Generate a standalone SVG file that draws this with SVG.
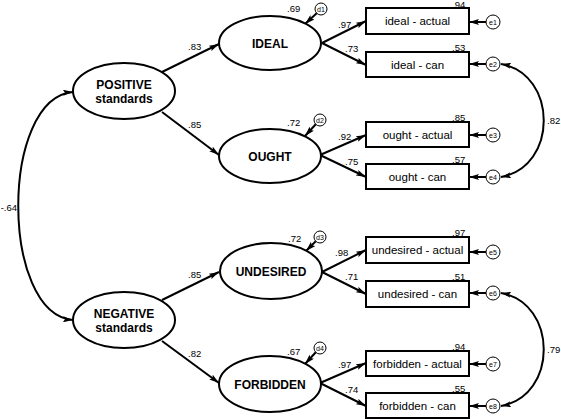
<svg xmlns="http://www.w3.org/2000/svg" width="561" height="419" viewBox="0 0 561 419">
<defs>
<marker id="ah" viewBox="0 0 10 6" refX="10" refY="3" markerWidth="10" markerHeight="6" markerUnits="userSpaceOnUse" orient="auto-start-reverse">
<path d="M0,0 L10,3 L0,6 L2,3 Z" fill="#000"/>
</marker>
<style>
.lat{fill:#fff;stroke:#000;stroke-width:2}
.box{fill:#fff;stroke:#000;stroke-width:2}
.err{fill:#fff;stroke:#000;stroke-width:1}
.ln{fill:none;stroke:#000;stroke-width:2;marker-end:url(#ah)}
.cv{fill:none;stroke:#000;stroke-width:2;marker-end:url(#ah);marker-start:url(#ah)}
.lt{font-family:"Liberation Sans",Arial,sans-serif;font-weight:bold;font-size:12px;text-anchor:middle}
.bt{font-family:"Liberation Sans",Arial,sans-serif;font-size:11.5px;text-anchor:middle}
.nm{font-family:"Liberation Sans",Arial,sans-serif;font-size:9.5px}
.et{font-family:"Liberation Sans",Arial,sans-serif;font-size:7px;text-anchor:middle}
</style>
</defs>
<rect width="561" height="419" fill="#fff"/>
<g id="connectors">
<path class="ln" d="M162,72 L219,44"/>
<path class="ln" d="M162,112 L219,155"/>
<path class="ln" d="M162,300 L219,272"/>
<path class="ln" d="M162,341 L219,383"/>
<path class="ln" d="M322,43 L366,21"/>
<path class="ln" d="M322,43 L366,65"/>
<path class="ln" d="M320,155 L366,135"/>
<path class="ln" d="M320,155 L366,177"/>
<path class="ln" d="M322,272 L366,250"/>
<path class="ln" d="M322,272 L366,294"/>
<path class="ln" d="M320,383 L366,363"/>
<path class="ln" d="M320,383 L366,406"/>
<path class="ln" d="M486,22 L469,22"/>
<path class="ln" d="M486,64 L469,64"/>
<path class="ln" d="M486,135 L469,135"/>
<path class="ln" d="M486,177 L469,177"/>
<path class="ln" d="M486,252 L469,252"/>
<path class="ln" d="M486,293 L469,293"/>
<path class="ln" d="M486,364 L469,364"/>
<path class="ln" d="M486,406 L469,406"/>
<path class="ln" d="M317,13 L305,24"/>
<path class="ln" d="M316,124 L305,136"/>
<path class="ln" d="M316,241 L306,251"/>
<path class="ln" d="M316,352 L305,364"/>
<path class="cv" d="M73,92 C0,98 0,314 73,320"/>
<path class="cv" d="M501,64 C558,74 558,167 501,177"/>
<path class="cv" d="M501,293 C558,303 558,396 501,406"/>
<text class="nm" x="17" y="211" text-anchor="end">-.64</text>
<text class="nm" x="547" y="124">.82</text>
<text class="nm" x="547" y="353">.79</text>
<text class="nm" x="188" y="50">.83</text>
<text class="nm" x="188" y="128">.85</text>
<text class="nm" x="188" y="278">.85</text>
<text class="nm" x="188" y="357">.82</text>
<text class="nm" x="338" y="28">.97</text>
<text class="nm" x="345" y="52">.73</text>
<text class="nm" x="338" y="140">.92</text>
<text class="nm" x="345" y="165">.75</text>
<text class="nm" x="335" y="256">.98</text>
<text class="nm" x="345" y="280">.71</text>
<text class="nm" x="338" y="368">.97</text>
<text class="nm" x="345" y="393">.74</text>
</g>
<g id="positive"><ellipse class="lat" cx="124" cy="91" rx="51" ry="28"/><text class="lt" x="124" y="89">POSITIVE</text><text class="lt" x="124" y="103">standards</text></g>
<g id="negative"><ellipse class="lat" cx="124" cy="320" rx="51" ry="28"/><text class="lt" x="124" y="318">NEGATIVE</text><text class="lt" x="124" y="332">standards</text></g>
<g id="ideal"><ellipse class="lat" cx="270" cy="43" rx="51" ry="27"/><text class="lt" x="270" y="48">IDEAL</text><text class="nm" x="287" y="12">.69</text></g>
<g id="ought"><ellipse class="lat" cx="270" cy="156" rx="51" ry="27"/><text class="lt" x="270" y="161">OUGHT</text><text class="nm" x="287" y="126">.72</text></g>
<g id="undesired"><ellipse class="lat" cx="271" cy="271" rx="51" ry="28"/><text class="lt" x="271" y="276">UNDESIRED</text><text class="nm" x="288" y="242">.72</text></g>
<g id="forbidden"><ellipse class="lat" cx="270" cy="384" rx="51" ry="28"/><text class="lt" x="270" y="389">FORBIDDEN</text><text class="nm" x="287" y="355">.67</text></g>
<g id="d1"><circle class="err" cx="321" cy="9" r="6"/><text class="et" x="321" y="11.5">d1</text></g>
<g id="d2"><circle class="err" cx="320" cy="120" r="6"/><text class="et" x="320" y="122.5">d2</text></g>
<g id="d3"><circle class="err" cx="320" cy="237" r="6"/><text class="et" x="320" y="239.5">d3</text></g>
<g id="d4"><circle class="err" cx="320" cy="348" r="6"/><text class="et" x="320" y="350.5">d4</text></g>
<g id="b1"><rect class="box" x="366" y="8" width="103" height="26"/><text class="bt" x="417.5" y="25">ideal - actual</text><text class="nm" x="452" y="8">.94</text></g>
<g id="b2"><rect class="box" x="366" y="52" width="103" height="25"/><text class="bt" x="417.5" y="68.5">ideal - can</text><text class="nm" x="452" y="51">.53</text></g>
<g id="b3"><rect class="box" x="366" y="122" width="103" height="25"/><text class="bt" x="417.5" y="138.5">ought - actual</text><text class="nm" x="452" y="121">.85</text></g>
<g id="b4"><rect class="box" x="366" y="164" width="103" height="25"/><text class="bt" x="417.5" y="180.5">ought - can</text><text class="nm" x="452" y="163">.57</text></g>
<g id="b5"><rect class="box" x="366" y="237" width="103" height="26"/><text class="bt" x="417.5" y="254">undesired - actual</text><text class="nm" x="452" y="236">.97</text></g>
<g id="b6"><rect class="box" x="366" y="281" width="103" height="26"/><text class="bt" x="417.5" y="298">undesired - can</text><text class="nm" x="452" y="280">.51</text></g>
<g id="b7"><rect class="box" x="366" y="351" width="103" height="25"/><text class="bt" x="417.5" y="367.5">forbidden - actual</text><text class="nm" x="452" y="350">.94</text></g>
<g id="b8"><rect class="box" x="366" y="393" width="103" height="25"/><text class="bt" x="417.5" y="409.5">forbidden - can</text><text class="nm" x="452" y="392">.55</text></g>
<g id="e1"><circle class="err" cx="493" cy="22" r="7"/><text class="et" x="493" y="24.5">e1</text></g>
<g id="e2"><circle class="err" cx="493" cy="64" r="7"/><text class="et" x="493" y="66.5">e2</text></g>
<g id="e3"><circle class="err" cx="493" cy="135" r="7"/><text class="et" x="493" y="137.5">e3</text></g>
<g id="e4"><circle class="err" cx="493" cy="177" r="7"/><text class="et" x="493" y="179.5">e4</text></g>
<g id="e5"><circle class="err" cx="493" cy="252" r="7"/><text class="et" x="493" y="254.5">e5</text></g>
<g id="e6"><circle class="err" cx="493" cy="293" r="7"/><text class="et" x="493" y="295.5">e6</text></g>
<g id="e7"><circle class="err" cx="493" cy="364" r="7"/><text class="et" x="493" y="366.5">e7</text></g>
<g id="e8"><circle class="err" cx="493" cy="406" r="7"/><text class="et" x="493" y="408.5">e8</text></g>
</svg>
